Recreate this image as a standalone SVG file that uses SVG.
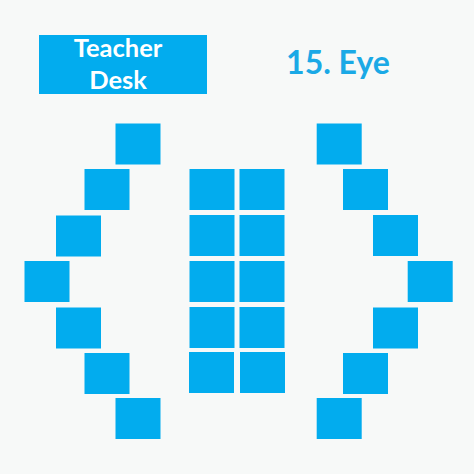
<svg xmlns="http://www.w3.org/2000/svg" width="474" height="474" viewBox="0 0 474 474">
<style>
.s{fill:#02acee}
.t{font-family:Lato,"Open Sans","Liberation Sans",sans-serif;font-weight:700}
</style>
<rect x="0" y="0" width="474" height="474" fill="#f7f9f8"/>
<g id="teacher-desk">
<rect class="s" x="39" y="35" width="168" height="59"/>
<text class="t" x="118" y="57" font-size="25.5" fill="#ffffff" text-anchor="middle">Teacher</text>
<text class="t" x="118" y="89" font-size="25.5" fill="#ffffff" text-anchor="middle">Desk</text>
</g>
<g id="title">
<text class="t" x="338" y="74" font-size="32" fill="#1aa9e6" text-anchor="middle">15. Eye</text>
</g>
<g id="left-arc">
<rect id="L1" class="s" x="115.5" y="123.5" width="45" height="41"/>
<rect id="L2" class="s" x="84.5" y="169" width="45" height="41"/>
<rect id="L3" class="s" x="56" y="215.5" width="45" height="41"/>
<rect id="L4" class="s" x="24.5" y="261" width="45" height="41"/>
<rect id="L5" class="s" x="56" y="307.5" width="45" height="41"/>
<rect id="L6" class="s" x="84.5" y="353" width="45" height="41"/>
<rect id="L7" class="s" x="115.5" y="398" width="45" height="41"/>
</g>
<g id="center">
<rect id="C1a" class="s" x="189.5" y="169" width="45" height="41"/>
<rect id="C1b" class="s" x="239.5" y="169" width="45" height="41"/>
<rect id="C2a" class="s" x="189.5" y="215" width="45" height="41"/>
<rect id="C2b" class="s" x="239.5" y="215" width="45" height="41"/>
<rect id="C3a" class="s" x="189.5" y="261" width="45" height="41"/>
<rect id="C3b" class="s" x="239.5" y="261" width="45" height="41"/>
<rect id="C4a" class="s" x="189.5" y="307" width="45" height="41"/>
<rect id="C4b" class="s" x="239.5" y="307" width="45" height="41"/>
<rect id="C5a" class="s" x="189" y="352" width="45" height="41"/>
<rect id="C5b" class="s" x="240" y="352" width="45" height="41"/>
</g>
<g id="right-arc">
<rect id="R1" class="s" x="316.7" y="123.5" width="45" height="41"/>
<rect id="R2" class="s" x="343" y="169" width="45" height="41"/>
<rect id="R3" class="s" x="373" y="215" width="45" height="41"/>
<rect id="R4" class="s" x="407.7" y="261" width="45" height="41"/>
<rect id="R5" class="s" x="373" y="307.5" width="45" height="41"/>
<rect id="R6" class="s" x="343" y="353" width="45" height="41"/>
<rect id="R7" class="s" x="316.7" y="398" width="45" height="41"/>
</g>
</svg>
